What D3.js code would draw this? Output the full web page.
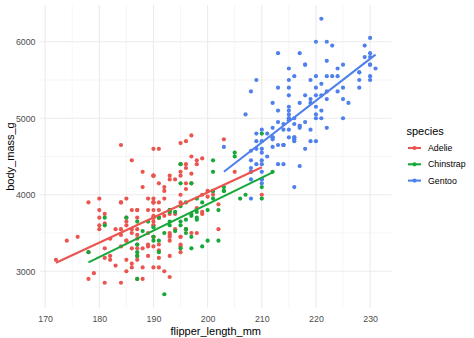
<!DOCTYPE html>
<html><head><meta charset="utf-8">
<script src="https://cdn.jsdelivr.net/npm/d3@7"></script>
<style>html,body{margin:0;padding:0;background:#fff;}svg{display:block;font-family:"Liberation Sans",Arial,Helvetica,sans-serif;}</style>
</head><body>
<svg id="chart" width="474" height="338"></svg>
<script>
const species = ["Adelie", "Chinstrap", "Gentoo"];
const colors = ["#EA5550", "#16A838", "#4F80EC"];
const xTicks = [170, 180, 190, 200, 210, 220, 230];
const yTicks = [3000, 4000, 5000, 6000];
const xTitle = "flipper_length_mm";
const yTitle = "body_mass_g";
const legendTitle = "species";

const adelieFlipper = [181,186,195,193,190,181,195,193,190,186,180,182,191,198,185,195,197,184,194,
174,180,189,185,180,187,183,187,172,180,
178,178,188,184,195,196,190,180,181,184,182,195,186,196,185,190,182,179,190,191,
186,188,190,200,187,191,186,193,181,194,185,195,185,192,184,192,195,188,
190,198,190,190,196,197,190,195,191,184,187,195,189,196,187,193,
191,194,190,189,189,190,202,205,185,186,187,208,190,196,178,192,
192,203,183,190,193,184,199,190,181,197,198,191,193,197,191,196,
188,199,189,189,187,198,176,202,186,199,191,195,191,210,190,197,
193,199,187,190,191,200,185,193,193,187,188,190,192,185,190,184,195,193,187,201];
const adelieMass = [3750,3800,3250,3450,3650,3625,4675,3475,4250,3300,3700,3200,3800,4400,3700,3450,4500,3325,4200,
3400,3600,3800,3950,3800,3800,3550,3200,3150,3950,
3250,3900,3300,3900,3325,4150,3950,3550,3300,4650,3150,3900,3100,4400,3000,4600,3425,2975,3450,4150,
3500,4300,3450,4050,2900,3700,3550,3800,2850,3750,3150,4400,3600,4050,2850,3950,3350,4100,
3050,4450,3600,3900,3550,4150,3700,4250,3700,3900,3550,4000,3200,4700,3800,4200,
3350,3550,3800,3500,3950,3600,3550,4300,3400,4450,3300,4300,3700,4350,2900,4100,
3725,4725,3075,4250,2925,3550,3750,3900,3175,4775,3825,4600,3200,4275,3900,4075,
2900,3775,3350,3325,3150,3500,3450,3875,3050,4000,3275,4300,3050,4000,3325,3500,
3500,4475,3425,3900,3175,3975,3400,4250,3400,3475,3050,3725,3000,3650,4250,3475,3450,3750,3700,4000];

const chinstrapFlipper = [192,196,193,188,197,198,178,197,195,198,193,194,185,201,190,201,197,181,190,195,181,191,187,193,195,197,
200,200,191,205,187,201,187,203,195,199,195,210,192,205,210,187,196,196,196,201,190,212,187,198,199,201,193,203,187,197,191,203,202,194,206,189,195,207,202,193,210,198];
const chinstrapMass = [3500,3900,3650,3525,3725,3950,3250,3750,4150,3700,3800,3775,3700,4050,3575,4050,3300,3700,3450,4400,3600,3400,2900,3800,3300,4150,
3400,3800,3700,4550,3200,4300,3350,4100,3600,3900,3850,4800,2700,4500,3950,3650,3550,3500,3675,4450,3400,4300,3250,3675,3325,3950,3600,4050,3350,3450,3250,4050,3800,3525,3950,3650,3650,4000,3400,3775,4100,3775];

const gentooFlipper = [211,230,210,218,215,210,211,219,209,215,214,216,214,213,210,217,210,221,209,222,218,215,213,215,215,215,216,215,210,220,222,209,207,230,
220,220,213,219,208,208,208,225,210,216,222,217,210,225,213,215,210,220,210,225,217,220,208,220,208,224,208,221,214,231,219,230,214,229,220,223,216,221,221,217,216,230,209,220,215,223,
212,221,212,224,212,228,218,218,212,230,218,228,212,224,214,226,216,222,203,225,219,228,215,228,216,215,210,219,208,209,216,229,213,230,217,230,217,222,214,215,222,212,213];
const gentooMass = [4500,5700,4450,5700,5400,4550,4800,5200,4400,5150,4650,5550,4650,5850,4200,5850,4150,6300,4800,5350,5700,5000,4400,5050,5000,5100,4100,5650,4600,5550,5250,4700,5050,6050,
5150,5400,4950,5250,4350,5350,3950,5700,4300,4750,5550,4900,4200,5400,5100,5300,4850,5300,4400,5000,4900,5050,4300,5000,4450,5550,4200,5300,4400,5650,4700,5700,4650,5800,4700,5550,4750,5000,5100,5200,4700,5800,4600,6000,4750,5950,
4625,5450,4725,5350,4750,5600,4600,5300,4875,5550,4950,5400,4750,5650,4850,5200,4925,4875,4625,5250,4850,5600,4975,5500,4725,5500,4700,5500,4575,5500,5000,5950,4650,5500,4375,5850,4875,6000,4925,4850,5750,5200,5400];

const flippers = [adelieFlipper, chinstrapFlipper, gentooFlipper];
const masses = [adelieMass, chinstrapMass, gentooMass];

const groups = species.map((s, i) => ({
  name: s, color: colors[i],
  pts: flippers[i].map((f, j) => ({x: f, y: masses[i][j]}))
}));
const all = groups.flatMap(g => g.pts);

const panel = {left: 40, right: 391.5, top: 5, bottom: 308};
function expand(ext) { const d = (ext[1] - ext[0]) * 0.05; return [ext[0] - d, ext[1] + d]; }
const x = d3.scaleLinear().domain(expand(d3.extent(all, d => d.x))).range([panel.left, panel.right]);
const y = d3.scaleLinear().domain(expand(d3.extent(all, d => d.y))).range([panel.bottom, panel.top]);

const svg = d3.select("#chart");

// grid
const xMinor = xTicks.slice(0, -1).map((t, i) => (t + xTicks[i + 1]) / 2);
const yMinor = yTicks.slice(0, -1).map((t, i) => (t + yTicks[i + 1]) / 2);
const grid = svg.append("g");
grid.selectAll(".xmin").data(xMinor).join("line")
  .attr("x1", d => x(d)).attr("x2", d => x(d)).attr("y1", panel.top).attr("y2", panel.bottom)
  .attr("stroke", "#F0F0F0").attr("stroke-width", 0.6);
grid.selectAll(".ymin").data(yMinor).join("line")
  .attr("y1", d => y(d)).attr("y2", d => y(d)).attr("x1", panel.left).attr("x2", panel.right)
  .attr("stroke", "#F0F0F0").attr("stroke-width", 0.6);
grid.selectAll(".xmaj").data(xTicks).join("line")
  .attr("x1", d => x(d)).attr("x2", d => x(d)).attr("y1", panel.top).attr("y2", panel.bottom)
  .attr("stroke", "#EBEBEB").attr("stroke-width", 1.1);
grid.selectAll(".ymaj").data(yTicks).join("line")
  .attr("y1", d => y(d)).attr("y2", d => y(d)).attr("x1", panel.left).attr("x2", panel.right)
  .attr("stroke", "#EBEBEB").attr("stroke-width", 1.1);

// axes (labels only)
const xAxis = svg.append("g").attr("transform", `translate(0,${panel.bottom})`)
  .call(d3.axisBottom(x).tickValues(xTicks).tickSize(0).tickPadding(8));
xAxis.select(".domain").remove();
xAxis.selectAll("text").attr("fill", "#4D4D4D").style("font-size", "8.8px");
const yAxis = svg.append("g").attr("transform", `translate(${panel.left},0)`)
  .call(d3.axisLeft(y).tickValues(yTicks).tickSize(0).tickPadding(4.5).tickFormat(d3.format("d")));
yAxis.select(".domain").remove();
yAxis.selectAll("text").attr("fill", "#4D4D4D").style("font-size", "8.8px");

// points
groups.forEach(g => {
  svg.append("g").selectAll("circle").data(g.pts).join("circle")
    .attr("cx", d => x(d.x)).attr("cy", d => y(d.y)).attr("r", 2.1).attr("fill", g.color);
});

// linear fits
groups.forEach(g => {
  const mx = d3.mean(g.pts, d => d.x), my = d3.mean(g.pts, d => d.y);
  const b = d3.sum(g.pts, d => (d.x - mx) * (d.y - my)) / d3.sum(g.pts, d => (d.x - mx) ** 2);
  const a = my - b * mx;
  const ext = d3.extent(g.pts, d => d.x);
  svg.append("line")
    .attr("x1", x(ext[0])).attr("y1", y(a + b * ext[0]))
    .attr("x2", x(ext[1])).attr("y2", y(a + b * ext[1]))
    .attr("stroke", g.color).attr("stroke-width", 2.1).attr("stroke-linecap", "butt");
});

// axis titles
svg.append("text").attr("x", (panel.left + panel.right) / 2).attr("y", 331)
  .attr("text-anchor", "middle").attr("dominant-baseline", "central")
  .style("font-size", "11px").attr("fill", "#000").text(xTitle);
svg.append("text").attr("transform", `translate(10,${(panel.top + panel.bottom) / 2}) rotate(-90)`)
  .attr("text-anchor", "middle").attr("dominant-baseline", "central")
  .style("font-size", "11px").attr("fill", "#000").text(yTitle);

// legend
const lg = svg.append("g");
lg.append("text").attr("x", 406.5).attr("y", 131).attr("dominant-baseline", "central")
  .style("font-size", "11px").attr("fill", "#000").text(legendTitle);
const keyY = [148, 164.3, 180.6];
groups.forEach((g, i) => {
  lg.append("line").attr("x1", 408).attr("x2", 421).attr("y1", keyY[i]).attr("y2", keyY[i])
    .attr("stroke", g.color).attr("stroke-width", 2.1);
  lg.append("circle").attr("cx", 414.5).attr("cy", keyY[i]).attr("r", 2.1).attr("fill", g.color);
  lg.append("text").attr("x", 428).attr("y", keyY[i]).attr("dominant-baseline", "central")
    .style("font-size", "8.8px").attr("fill", "#000").text(g.name);
});
</script>
</body></html>
